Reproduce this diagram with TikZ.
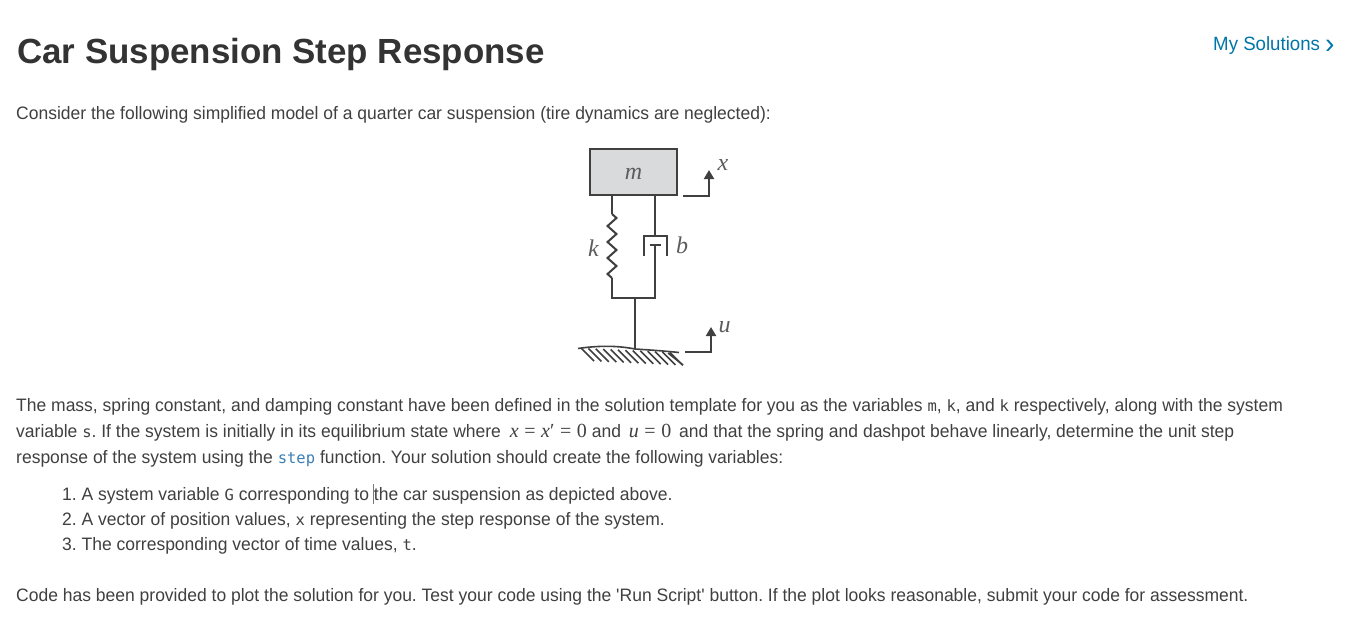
\documentclass[tikz,border=0pt]{standalone}
\usepackage{fontspec}
\setmainfont[FakeStretch=0.972]{Liberation Sans}
\newfontfamily\headfont{Liberation Sans}
\newfontfamily\codefont{DejaVu Sans Mono}
\newfontfamily\symfont{Liberation Serif}
\usetikzlibrary{arrows.meta,decorations.pathmorphing}
\definecolor{bodytext}{HTML}{404040}
\definecolor{linkblue}{HTML}{0076A8}
\definecolor{stepblue}{HTML}{3C7FB5}
\definecolor{massgrey}{HTML}{D9DADB}
\definecolor{sketch}{HTML}{404040}
\newcommand{\cod}[1]{{\codefont\fontsize{15.5}{18}\selectfont #1}}
\newcommand{\sym}[1]{{\symfont\itshape\fontsize{20}{20}\selectfont #1}}
\newcommand{\rom}[1]{{\symfont\fontsize{20}{20}\selectfont #1}}
\newcommand{\eqs}{\hspace{5.6pt}\rom{=}\hspace{5.6pt}}
\tikzset{
  line/.style={anchor=base west,inner sep=0pt,text=bodytext,font=\frenchspacing\fontsize{18}{20}\selectfont},
  label/.style={inner sep=0pt,text=sketch!85,font=\symfont\itshape\fontsize{24}{24}\selectfont},
  part/.style={draw=sketch,line width=2pt},
  hatch/.style={draw=sketch,line width=1.6pt},
  move/.style={draw=sketch,line width=2pt,-{Triangle[length=9pt,width=10pt]}}
}
\begin{document}
\begin{tikzpicture}[x=1pt,y=-1pt]
  \useasboundingbox[fill=white] (0,0) rectangle (1364,621);
  % heading
  \node[line,font=\headfont\bfseries\fontsize{34.9}{36}\selectfont,text=black!80] (title) at (17,63) {Car Suspension Step Response};
  \node[line,text=linkblue,font=\fontsize{19.2}{20}\selectfont] (link) at (1213,50) {My Solutions};
  \node[line,text=linkblue,font=\fontsize{29}{29}\selectfont] (more) at (1325,53) {›};
  \node[line] (intro) at (16,119) {Consider the following simplified model of a quarter car suspension (tire dynamics are neglected):};
  % model
  \node[part,fill=massgrey,minimum width=87pt,minimum height=46.5pt,inner sep=0pt] (mass) at (633,172) {};
  \node[label] (m) at (633.5,174) {m};
  \node[label] (x) at (723,165) {x};
  \node[label] (k) at (593.5,248) {k};
  \node[label] (b) at (682,245) {b};
  \node[label] (u) at (724.5,327) {u};
  \coordinate (sTop) at (612,195);
  \coordinate (sA) at (612,214);
  \coordinate (sB) at (612,278);
  \coordinate (sBot) at (612,298);
  \coordinate (dTop) at (655,195);
  \coordinate (dRod) at (655,236);
  \coordinate (cupL) at (643.5,256);
  \coordinate (cupTL) at (643.5,236);
  \coordinate (cupTR) at (667,236);
  \coordinate (cupR) at (667,256);
  \coordinate (pL) at (649.5,245);
  \coordinate (pR) at (660.5,245);
  \coordinate (pM) at (655,245);
  \coordinate (dBot) at (655,298);
  \coordinate (join) at (634.8,298);
  \coordinate (base) at (634.8,349);
  \draw[part] (sTop) -- (sA);
  \draw[part,decorate,decoration={zigzag,amplitude=4.5pt,segment length=16pt}] (sA) -- (sB);
  \draw[part] (sB) -- (sBot) -- (dBot) -- (pM);
  \draw[part] (dTop) -- (dRod);
  \draw[part] (cupL) -- (cupTL) -- (cupTR) -- (cupR);
  \draw[part] (pL) -- (pR);
  \draw[part] (join) -- (base);
  % ground
  \draw[hatch] (578,348.5) .. controls (595,346) and (615,345) .. (635,349) .. controls (650,350) and (665,351) .. (679,352.5);
  \foreach \i in {0,...,12}
    \draw[hatch] (581+7.4*\i,348+0.35*\i) -- (594+7.4*\i,361+0.35*\i);
  \draw[hatch] (668,353) -- (683,365);
  % motion arrows
  \coordinate (xA) at (683,196);
  \coordinate (xB) at (709,196);
  \coordinate (xC) at (709,170);
  \coordinate (uA) at (685,352);
  \coordinate (uB) at (711,352);
  \coordinate (uC) at (711,327);
  \draw[move] (xA) -- (xB) -- (xC);
  \draw[move] (uA) -- (uB) -- (uC);
  % text below
  \node[line] (p1) at (16,411) {The mass, spring constant, and damping constant have been defined in the solution template for you as the variables \cod{m}, \cod{k}, and \cod{k} respectively, along with the system};
  \node[line] (p2) at (16,437) {variable \cod{s}. If the system is initially in its equilibrium state where \hspace{4pt}\sym{x}\eqs\sym{x}\rom{′}\eqs\rom{0} and \hspace{3pt}\sym{u}\eqs\rom{0}\hspace{3pt} and that the spring and dashpot behave linearly, determine the unit step};
  \node[line] (p3) at (16,463) {response of the system using the {\color{stepblue}\cod{step}} function. Your solution should create the following variables:};
  \node[line] (i1) at (62,500) {1. A system variable \cod{G} corresponding to the car suspension as depicted above.};
  \node[line] (i2) at (62,525) {2. A vector of position values, \cod{x} representing the step response of the system.};
  \node[line] (i3) at (62,550) {3. The corresponding vector of time values, \cod{t}.};
  \node[line] (p4) at (16,601) {Code has been provided to plot the solution for you. Test your code using the \textquotesingle Run Script\textquotesingle{} button. If the plot looks reasonable, submit your code for assessment.};
  \coordinate (caretA) at (373.5,484);
  \coordinate (caretB) at (373.5,504);
  \draw[bodytext!70,line width=0.6pt] (caretA) -- (caretB);
\end{tikzpicture}
\end{document}
